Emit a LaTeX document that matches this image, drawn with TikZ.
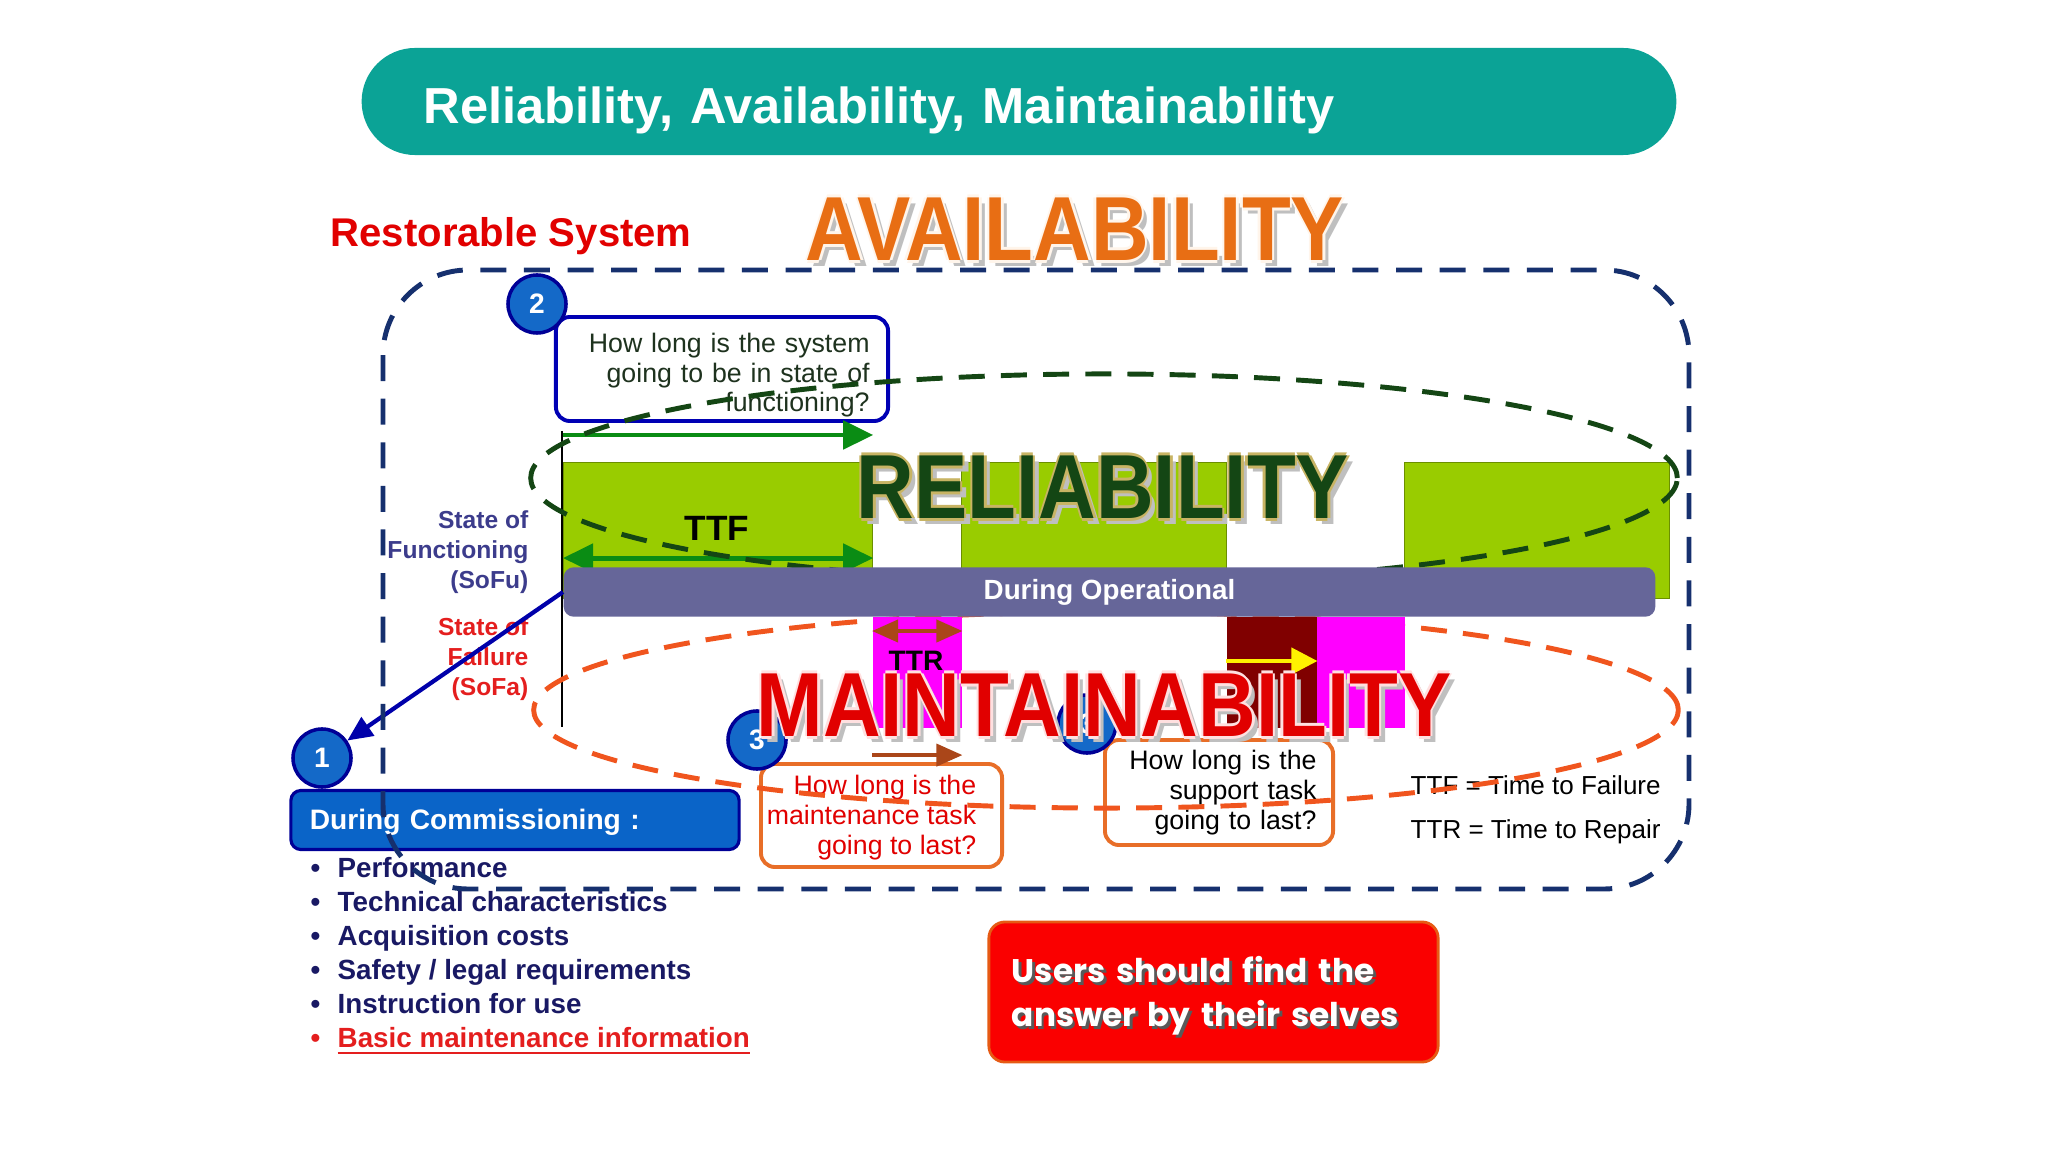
\documentclass[tikz,border=0pt]{standalone}
\usepackage{fontspec}
\setmainfont{Liberation Sans}
\newfontfamily\gothicfont{Poppins}
\usepackage{graphicx}
\usetikzlibrary{shapes,arrows,arrows.meta,positioning}

\definecolor{bannerteal}{RGB}{11,163,150}
\definecolor{navydash}{RGB}{22,48,110}
\definecolor{fungreen}{RGB}{153,204,0}
\definecolor{opbar}{RGB}{102,102,153}
\definecolor{sofublue}{RGB}{60,60,140}
\definecolor{sofared}{RGB}{228,30,30}
\definecolor{qblue}{RGB}{0,0,180}
\definecolor{qtext}{RGB}{30,50,30}
\definecolor{qorange}{RGB}{232,110,40}
\definecolor{failred}{RGB}{225,0,0}
\definecolor{ttrbrown}{RGB}{170,70,25}
\definecolor{repairdark}{RGB}{128,0,0}
\definecolor{repairpink}{RGB}{255,0,255}
\definecolor{circfill}{RGB}{20,105,200}
\definecolor{circline}{RGB}{0,0,150}
\definecolor{commblue}{RGB}{10,100,200}
\definecolor{listnavy}{RGB}{25,25,100}
\definecolor{arrowgreen}{RGB}{10,140,20}
\definecolor{reldark}{RGB}{20,70,20}
\definecolor{relrim}{RGB}{200,180,100}
\definecolor{ellorange}{RGB}{240,85,30}
\definecolor{availorange}{RGB}{232,110,20}
\definecolor{userred}{RGB}{250,0,0}
\definecolor{userline}{RGB}{230,90,20}

% big outlined words with a soft shadow
\newcommand{\bigword}[3]{\scalebox{1}[1.14]{%
  \rlap{\kern1.6pt\raisebox{-1.6pt}{\textcolor{black!25}{#3}}}%
  \rlap{\kern-0.7pt\textcolor{#2}{#3}}%
  \rlap{\kern0.7pt\textcolor{#2}{#3}}%
  \rlap{\raisebox{0.7pt}{\textcolor{#2}{#3}}}%
  \rlap{\raisebox{-0.7pt}{\textcolor{#2}{#3}}}%
  \textcolor{#1}{#3}}}
\newcommand{\dropshadow}[1]{\leavevmode\rlap{\kern0.8pt\raisebox{-0.8pt}{\textcolor{black!65}{#1}}}#1}

\begin{document}
\begin{tikzpicture}[x=0.01cm, y=-0.01cm, >={Triangle[length=0.3cm, width=0.28cm]}]
    \tikzstyle{banner}   = [rectangle, rounded corners=0.535cm, fill=bannerteal, minimum width=13.14cm, minimum height=1.07cm, text width=11.9cm, inner xsep=0.62cm, align=left, text height=0.44cm, text depth=0pt, text=white, font=\fontsize{14.4}{17}\selectfont\bfseries]
    \tikzstyle{upbar}    = [rectangle, fill=fungreen, draw=fungreen!70!black, line width=0.3pt, inner sep=0pt, anchor=north west, minimum height=1.36cm]
    \tikzstyle{downbar}  = [rectangle, inner sep=0pt, anchor=north west, minimum height=1.11cm]
    \tikzstyle{askbox}   = [draw, rectangle, rounded corners=0.14cm, fill=white, line width=1.1pt, align=right, inner ysep=0pt, inner xsep=0.1cm, font=\fontsize{7.6}{8.5}\selectfont]
    \tikzstyle{numdot}   = [circle, draw=circline, line width=1pt, fill=circfill, minimum size=0.58cm, inner sep=0pt, text=white, font=\fontsize{8}{9}\selectfont\bfseries]
    \tikzstyle{state}    = [anchor=east, align=right, inner sep=0pt, font=\fontsize{7}{8.53}\selectfont\bfseries]
    \tikzstyle{grnarrow} = [line width=1.4pt, draw=arrowgreen, fill=arrowgreen]
    \tikzstyle{ringdash} = [line width=1.4pt, dash pattern=on 7.4pt off 4.6pt]

    \useasboundingbox (0,0) rectangle (2048,1152);

    \node [banner] (title) at (1019,101.5) {Reliability, Availability, Maintainability};
    \node [anchor=west, inner sep=0pt, text=failred, font=\fontsize{11.4}{13}\selectfont\bfseries] (restore) at (330,236) {Restorable System};
    \node [font=\fontsize{22.7}{26}\selectfont\bfseries] (avail) at (1075,231) {\bigword{availorange}{white!92!orange}{AVAILABILITY}};

    % time line bars
    \node [upbar, minimum width=3.09cm] (up1) at (563,462) {};
    \node [upbar, minimum width=2.65cm] (up2) at (961,462) {};
    \node [upbar, minimum width=2.65cm] (up3) at (1404,462) {};
    \coordinate (axtop) at (562,431);
    \coordinate (axbot) at (562,727);
    \draw [line width=0.7pt] (axtop) -- (axbot);

    % questions
    \node [askbox, draw=qblue, text=qtext, minimum width=3.32cm, minimum height=1.04cm, text width=2.95cm] (askrel) at (722,369) {\rule{0pt}{9pt}How long is the system\\going to be in state of\\functioning?};
    \node [askbox, draw=qorange, text=failred, minimum width=2.41cm, minimum height=1.03cm, align=center, inner xsep=0pt] (askmnt) at (881.5,815.5) {\begin{tabular}{@{}r@{\hspace{0.2cm}}}\rule{0pt}{7.5pt}How long is the\\maintenance task\\going to last?\end{tabular}};
    \node [askbox, draw=qorange, text=black, minimum width=2.28cm, minimum height=1.05cm, text width=1.95cm] (asksup) at (1219,792.5) {How long is the\\support task\\going to last?};
    \node [anchor=west, align=left, inner sep=0pt, font=\fontsize{7.4}{12.5}\selectfont] (legend) at (1410,810) {TTF = Time to Failure\\TTR = Time to Repair};

    % maintainability ring sits under the repair bars
    \draw [ringdash, draw=ellorange] (1106,710) ellipse [x radius=5.72cm, y radius=0.98cm];
    \node [downbar, fill=repairpink, minimum width=0.89cm] (dn1) at (872,616) {};
    \node [downbar, fill=repairdark, minimum width=0.90cm] (dn2) at (1226,616) {};
    \node [downbar, fill=repairpink, minimum width=0.88cm] (dn3) at (1316,616) {};

    % durations
    \draw [grnarrow, ->] ([yshift=0.27cm]up1.north west) -- ([yshift=0.27cm]up1.north east);
    \draw [grnarrow, <->] ([yshift=-0.96cm]up1.north west) -- ([yshift=-0.96cm]up1.north east);
    \draw [line width=1.1pt, draw=ttrbrown, fill=ttrbrown, <->, >={Triangle[length=0.26cm, width=0.22cm]}] ([yshift=-0.15cm]dn1.north west) -- ([yshift=-0.15cm]dn1.north east);
    \draw [line width=1.1pt, draw=ttrbrown, fill=ttrbrown, ->, >={Triangle[length=0.26cm, width=0.22cm]}] ([yshift=-1.39cm]dn1.north west) -- ([yshift=-1.39cm]dn1.north east);
    \draw [line width=1.2pt, draw=yellow, fill=yellow, ->, >={Triangle[length=0.26cm, width=0.26cm]}] ([yshift=-0.45cm]dn2.north west) -- ([yshift=-0.45cm]dn2.north east);
    \node [font=\fontsize{10}{12}\selectfont\bfseries] (ttf) at (717,528) {TTF};
    \node [font=\fontsize{8}{10}\selectfont\bfseries] (ttr) at (916,661) {TTR};

    % reliability ring
    \draw [ringdash, draw=reldark] (1104,478) ellipse [x radius=5.73cm, y radius=1.04cm];

    \node [rectangle, rounded corners=0.1cm, fill=opbar, minimum width=10.91cm, minimum height=0.48cm, text=white, font=\fontsize{7.9}{9}\selectfont\bfseries] (oper) at (1109.5,592) {During Operational};

    \node [state, text=sofublue] (sofu) at (529,552) {State of\\Functioning\\(SoFu)};
    \node [state, text=sofared] (sofa) at (529,659) {State of\\Failure\\(SoFa)};

    \node [numdot] (c1) at (322,758) {1};
    \node [numdot] (c2) at (537,304) {2};
    \node [numdot] (c3) at (757,740) {3};
    \node [numdot] (c4) at (1087,724) {3};
    \draw [line width=1.2pt, draw={rgb,255:red,0;green,0;blue,170}, fill={rgb,255:red,0;green,0;blue,170}, ->, >={Triangle[length=0.25cm, width=0.22cm]}] (oper.west) -- (c1);

    \node [font=\fontsize{22.7}{26}\selectfont\bfseries] (rel) at (1103,489) {\bigword{reldark}{relrim}{RELIABILITY}};
    \node [font=\fontsize{22.7}{26}\selectfont\bfseries] (mnt) at (1104,707) {\bigword{failred}{red!12!white}{MAINTAINABILITY}};

    % commissioning
    \node [rectangle, rounded corners=0.1cm, draw=circline, line width=0.9pt, fill=commblue, minimum width=4.48cm, minimum height=0.59cm, text width=4.1cm, inner xsep=0.19cm, align=left, text=white, font=\fontsize{8}{9}\selectfont\bfseries] (comm) at (515,820) {\rule{0pt}{7pt}During Commissioning :};
    \node [anchor=north west, align=left, inner sep=0pt, text=listnavy, font=\fontsize{7.9}{9.67}\selectfont\bfseries] (list) at (310,857) {%
        \makebox[0.27cm][l]{\textbullet}Performance\\
        \makebox[0.27cm][l]{\textbullet}Technical characteristics\\
        \makebox[0.27cm][l]{\textbullet}Acquisition costs\\
        \makebox[0.27cm][l]{\textbullet}Safety / legal requirements\\
        \makebox[0.27cm][l]{\textbullet}Instruction for use\\
        \textcolor{sofared}{\makebox[0.27cm][l]{\textbullet}\underline{Basic maintenance information}}};

    % availability frame
    \draw [line width=1.4pt, draw=navydash, dash pattern=on 7.4pt off 5pt, rounded corners=0.85cm] (383,270) rectangle (1689,889);

    \node [rectangle, rounded corners=0.16cm, draw=userline, line width=0.8pt, fill=userred, minimum width=4.49cm, minimum height=1.4cm, text width=4.03cm, inner xsep=0.23cm, align=left, text=white, font=\gothicfont\fontsize{9.3}{12.5}\selectfont\bfseries] (users) at (1213.5,992) {\rule{0pt}{10.5pt}\dropshadow{Users should find the}\\\dropshadow{answer by their selves}};

\end{tikzpicture}
\end{document}
